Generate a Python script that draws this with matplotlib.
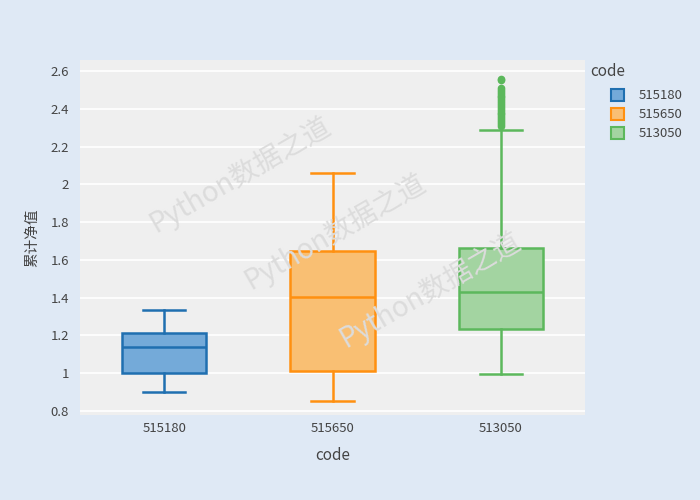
from matplotlib import pyplot as plt
from matplotlib.patches import Patch

plt.rcParams['font.family'] = ['Noto Sans CJK SC', 'DejaVu Sans']

codes = ['515180', '515650', '513050']
whislo = [0.90, 0.855, 0.995]
q1 = [1.00, 1.01, 1.235]
med = [1.14, 1.405, 1.43]
q3 = [1.215, 1.645, 1.665]
whishi = [1.335, 2.06, 2.285]
fliers = [[], [],
          [2.31, 2.32, 2.33, 2.34, 2.35, 2.36, 2.37, 2.38, 2.39, 2.40, 2.41,
           2.42, 2.43, 2.44, 2.45, 2.46, 2.47, 2.48, 2.49, 2.50, 2.51, 2.55, 2.56]]

line_colors = ['#1f6fb0', '#ff9010', '#5cb85c']
fill_colors = ['#74aad9', '#f9bf73', '#a3d4a1']

fig = plt.figure(figsize=(7, 5), dpi=100, facecolor='#dfe9f5')
ax = fig.add_axes([80/700, 85/500, 505/700, 355/500])
ax.set_facecolor('#efefef')

stats = []
for i in range(len(codes)):
    stats.append(dict(whislo=whislo[i], q1=q1[i], med=med[i], q3=q3[i],
                      whishi=whishi[i], fliers=fliers[i], label=codes[i]))

for i, s in enumerate(stats):
    c = line_colors[i]
    ax.bxp([s], positions=[i], widths=0.5, patch_artist=True,
           boxprops=dict(facecolor=fill_colors[i], edgecolor=c, linewidth=1.8),
           medianprops=dict(color=c, linewidth=1.8),
           whiskerprops=dict(color=c, linewidth=1.8),
           capprops=dict(color=c, linewidth=1.8),
           capwidths=0.25,
           flierprops=dict(marker='o', markerfacecolor=c, markeredgecolor=c,
                           markersize=4.5),
           manage_ticks=False, zorder=3)

ax.set_xlim(-0.5, 2.5)
ax.set_ylim(0.779, 2.658)
ax.set_xticks(range(len(codes)))
ax.set_xticklabels(codes)
yt = [0.8, 1.0, 1.2, 1.4, 1.6, 1.8, 2.0, 2.2, 2.4, 2.6]
ax.set_yticks(yt)
ax.set_yticklabels(['0.8', '1', '1.2', '1.4', '1.6', '1.8', '2', '2.2', '2.4', '2.6'])
ax.grid(axis='y', color='white', linewidth=1.2, zorder=0)
ax.set_axisbelow(True)
for sp in ax.spines.values():
    sp.set_visible(False)
ax.tick_params(axis='y', length=0, labelsize=9.5, colors='#444444', pad=8)
ax.tick_params(axis='x', length=0, labelsize=9.5, colors='#444444', pad=5)
ax.set_xlabel('code', fontsize=11, color='#444444', labelpad=9)
ax.set_ylabel('累计净值', fontsize=10.5, color='#444444', labelpad=8)

# watermark
for x, y in [(240, 175), (335, 232), (430, 290)]:
    fig.text(x/700, 1 - y/500, 'Python数据之道', fontsize=20, color='#dcdcdc',
             rotation=30, ha='center', va='center', zorder=5)

# legend
fig.text(590/700, 1 - 72/500, 'code', fontsize=11, color='#444444',
         ha='left', va='center')
handles = [Patch(facecolor=fill_colors[i], edgecolor=line_colors[i], linewidth=1.5)
           for i in range(len(codes))]
leg = fig.legend(handles, codes, loc='upper left',
                 bbox_to_anchor=(599/700, 1 - 77/500), frameon=False,
                 fontsize=9.5, handlelength=1.0,
                 handleheight=1.0, handletextpad=1.1, labelspacing=0.42,
                 borderpad=0.4)
for t in leg.get_texts():
    t.set_color('#444444')

fig.savefig('out.png', dpi=100, facecolor=fig.get_facecolor())
